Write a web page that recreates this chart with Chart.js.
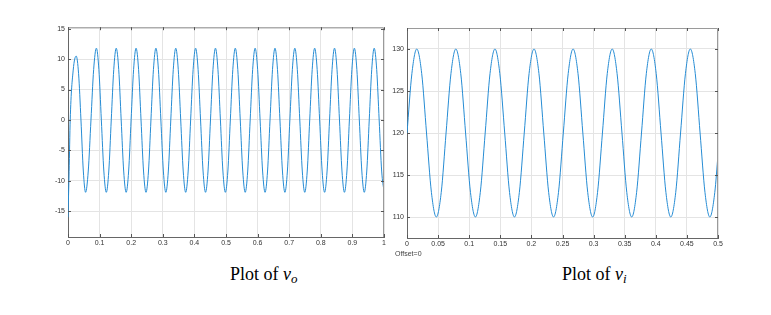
<!DOCTYPE html>
<html>
<head>
<meta charset="utf-8">
<script src="https://cdn.jsdelivr.net/npm/chart.js@4.4.0/dist/chart.umd.min.js"></script>
<style>
body { margin: 0; background: #fff; }
#page { position: relative; width: 771px; height: 315px; overflow: hidden; background: #fff; }
canvas { position: absolute; }
#voChart { left: 40px; top: 20px; }
#viChart { left: 380px; top: 20px; }
.cap { position: absolute; top: 264px; font-family: "Liberation Serif", "Times New Roman", serif; font-size: 18px; line-height: 20px; color: #000; white-space: nowrap; }
.cap sub { font-size: 13px; line-height: 0; vertical-align: -3px; }
#offset { position: absolute; left: 395px; top: 250px; font-family: "Liberation Sans", Arial, sans-serif; font-size: 7px; line-height: 8px; color: #444; }
</style>
</head>
<body>
<div id="page">
  <canvas id="voChart" width="350" height="230"></canvas>
  <canvas id="viChart" width="345" height="230"></canvas>
  <div id="offset">Offset=0</div>
  <div class="cap" style="left:230px">Plot of <i>v</i><sub><i>o</i></sub></div>
  <div class="cap" style="left:562px">Plot of <i>v</i><sub><i>i</i></sub></div>
</div>
<script>
'use strict';
// v_o (start-up transient, then steady sine)
var voTime = [
    0, 0.0035, 0.007, 0.0165, 0.026, 0.0335, 0.041, 0.0485, 0.0556, 0.0641, 0.0727, 0.0812,
    0.0898, 0.0977, 0.1055, 0.1134, 0.1212, 0.1291, 0.1369, 0.1448,
    0.1526, 0.1605, 0.1683, 0.1762, 0.1840, 0.1919, 0.1997, 0.2076,
    0.2154, 0.2233, 0.2311, 0.2390, 0.2468, 0.2547, 0.2625, 0.2704,
    0.2782, 0.2861, 0.2939, 0.3018, 0.3096, 0.3175, 0.3253, 0.3332,
    0.3410, 0.3489, 0.3567, 0.3646, 0.3724, 0.3803, 0.3881, 0.3960,
    0.4038, 0.4117, 0.4195, 0.4274, 0.4352, 0.4431, 0.4509, 0.4588,
    0.4666, 0.4745, 0.4823, 0.4902, 0.4980, 0.5059, 0.5137, 0.5216,
    0.5294, 0.5373, 0.5451, 0.5530, 0.5608, 0.5687, 0.5765, 0.5844,
    0.5922, 0.6001, 0.6079, 0.6158, 0.6236, 0.6315, 0.6393, 0.6472,
    0.6550, 0.6629, 0.6707, 0.6786, 0.6864, 0.6943, 0.7021, 0.7100,
    0.7178, 0.7257, 0.7335, 0.7414, 0.7492, 0.7571, 0.7649, 0.7728,
    0.7806, 0.7885, 0.7963, 0.8042, 0.8120, 0.8199, 0.8277, 0.8356,
    0.8434, 0.8513, 0.8591, 0.8670, 0.8748, 0.8827, 0.8905, 0.8984,
    0.9062, 0.9141, 0.9219, 0.9298, 0.9376, 0.9455, 0.9533, 0.9612,
    0.9690, 0.9769, 0.9847, 0.9926, 1.0004
];
var voValue = [
    -16.0, -8.5, 0, 8.2, 10.5, 7.6, 0, -8.4, -11.9, -8.4, 0, 8.3,
    11.8, 8.3, 0, -8.4, -11.9, -8.4, 0, 8.3,
    11.8, 8.3, 0, -8.4, -11.9, -8.4, 0, 8.3,
    11.8, 8.3, 0, -8.4, -11.9, -8.4, 0, 8.3,
    11.8, 8.3, 0, -8.4, -11.9, -8.4, 0, 8.3,
    11.8, 8.3, 0, -8.4, -11.9, -8.4, 0, 8.3,
    11.8, 8.3, 0, -8.4, -11.9, -8.4, 0, 8.3,
    11.8, 8.3, 0, -8.4, -11.9, -8.4, 0, 8.3,
    11.8, 8.3, 0, -8.4, -11.9, -8.4, 0, 8.3,
    11.8, 8.3, 0, -8.4, -11.9, -8.4, 0, 8.3,
    11.8, 8.3, 0, -8.4, -11.9, -8.4, 0, 8.3,
    11.8, 8.3, 0, -8.4, -11.9, -8.4, 0, 8.3,
    11.8, 8.3, 0, -8.4, -11.9, -8.4, 0, 8.3,
    11.8, 8.3, 0, -8.4, -11.9, -8.4, 0, 8.3,
    11.8, 8.3, 0, -8.4, -11.9, -8.4, 0, 8.3,
    11.8, 8.3, 0, -8.4, -11.9
];
var voXTicks = [0, 0.1, 0.2, 0.3, 0.4, 0.5, 0.6, 0.7, 0.8, 0.9, 1];
var voXLabels = ['0', '0.1', '0.2', '0.3', '0.4', '0.5', '0.6', '0.7', '0.8', '0.9', '1'];
var voYTicks = [-15, -10, -5, 0, 5, 10, 15];
var voYLabels = ['-15', '-10', '-5', '0', '5', '10', '15'];

// v_i
var viTime = [
    0, 0.0079, 0.0157, 0.0236, 0.0314, 0.0393, 0.0471, 0.0550,
    0.0628, 0.0707, 0.0785, 0.0864, 0.0942, 0.1021, 0.1100, 0.1178,
    0.1257, 0.1335, 0.1414, 0.1492, 0.1571, 0.1649, 0.1728, 0.1806,
    0.1885, 0.1963, 0.2042, 0.2121, 0.2199, 0.2278, 0.2356, 0.2435,
    0.2513, 0.2592, 0.2670, 0.2749, 0.2827, 0.2906, 0.2985, 0.3063,
    0.3142, 0.3220, 0.3299, 0.3377, 0.3456, 0.3534, 0.3613, 0.3691,
    0.3770, 0.3848, 0.3927, 0.4006, 0.4084, 0.4163, 0.4241, 0.4320,
    0.4398, 0.4477, 0.4555, 0.4634, 0.4712, 0.4791, 0.4869, 0.4948,
    0.5000
];
var viValue = [
    120, 127.1, 130, 127.1, 120, 112.9, 110, 112.9,
    120, 127.1, 130, 127.1, 120, 112.9, 110, 112.9,
    120, 127.1, 130, 127.1, 120, 112.9, 110, 112.9,
    120, 127.1, 130, 127.1, 120, 112.9, 110, 112.9,
    120, 127.1, 130, 127.1, 120, 112.9, 110, 112.9,
    120, 127.1, 130, 127.1, 120, 112.9, 110, 112.9,
    120, 127.1, 130, 127.1, 120, 112.9, 110, 112.9,
    120, 127.1, 130, 127.1, 120, 112.9, 110, 112.9,
    117.4
];
var viXTicks = [0, 0.05, 0.1, 0.15, 0.2, 0.25, 0.3, 0.35, 0.4, 0.45, 0.5];
var viXLabels = ['0', '0.05', '0.1', '0.15', '0.2', '0.25', '0.3', '0.35', '0.4', '0.45', '0.5'];
var viYTicks = [110, 115, 120, 125, 130];
var viYLabels = ['110', '115', '120', '125', '130'];

var tickFont = { family: '"Liberation Sans", Arial, sans-serif', size: 7 };

// box round the axes plus small inward tick marks, like the scope window
var framePlugin = {
    id: 'frame',
    afterDatasetsDraw: function (chart) {
        var ctx = chart.ctx,
            a = chart.chartArea,
            xs = chart.scales.x,
            ys = chart.scales.y;
        ctx.save();
        ctx.lineWidth = 1;
        ctx.strokeStyle = '#9a9a9a';
        ctx.beginPath();
        ctx.moveTo(a.left, a.top + 0.5);
        ctx.lineTo(a.right - 0.5, a.top + 0.5);
        ctx.lineTo(a.right - 0.5, a.bottom);
        ctx.stroke();
        ctx.strokeStyle = '#555';
        ctx.beginPath();
        xs.ticks.forEach(function (t) {
            var px = Math.round(xs.getPixelForValue(t.value)) + 0.5;
            ctx.moveTo(px, a.bottom); ctx.lineTo(px, a.bottom - 3);
            ctx.moveTo(px, a.top); ctx.lineTo(px, a.top + 3);
        });
        ys.ticks.forEach(function (t) {
            var py = Math.round(ys.getPixelForValue(t.value)) + 0.5;
            ctx.moveTo(a.left, py); ctx.lineTo(a.left + 3, py);
            ctx.moveTo(a.right, py); ctx.lineTo(a.right - 3, py);
        });
        ctx.stroke();
        ctx.restore();
    }
};

function scopeChart (canvasId, time, value, xr, yr, xTicks, xLabels, yTicks, yLabels, yWidth, xHeight, pad) {
    var points = time.map(function (t, i) { return { x: t, y: value[i] }; });
    return new Chart(document.getElementById(canvasId), {
        type: 'line',
        data: {
            datasets: [{
                data: points,
                borderColor: 'rgb(38, 140, 212)',
                borderWidth: 1,
                pointRadius: 0,
                fill: false,
                cubicInterpolationMode: 'monotone'
            }]
        },
        options: {
            responsive: false,
            animation: false,
            events: [],
            layout: { padding: pad },
            plugins: { legend: { display: false }, tooltip: { enabled: false } },
            scales: {
                x: {
                    type: 'linear',
                    bounds: 'data',
                    min: xr[0],
                    max: xr[1],
                    afterBuildTicks: function (s) { s.ticks = xTicks.map(function (v) { return { value: v }; }); },
                    afterFit: function (s) { s.height = xHeight; },
                    grid: { color: '#e4e4e4', drawTicks: false },
                    border: { color: '#666' },
                    ticks: {
                        autoSkip: false, maxRotation: 0, padding: 2,
                        font: tickFont, color: '#333',
                        callback: function (v, i) { return xLabels[i]; }
                    }
                },
                y: {
                    type: 'linear',
                    bounds: 'data',
                    min: yr[0],
                    max: yr[1],
                    afterBuildTicks: function (s) { s.ticks = yTicks.map(function (v) { return { value: v }; }); },
                    afterFit: function (s) { s.width = yWidth; },
                    grid: { color: '#e4e4e4', drawTicks: false },
                    border: { color: '#666' },
                    ticks: {
                        autoSkip: false, padding: 3,
                        font: tickFont, color: '#333',
                        callback: function (v, i) { return yLabels[i]; }
                    }
                }
            }
        },
        plugins: [framePlugin]
    });
}

scopeChart('voChart', voTime, voValue, [0, 1], [-19.25, 15.25],
    voXTicks, voXLabels, voYTicks, voYLabels, 28, 13, { top: 7, right: 6, left: 0, bottom: 0 });
scopeChart('viChart', viTime, viValue, [0, 0.5], [107.5, 132.5],
    viXTicks, viXLabels, viYTicks, viYLabels, 27, 12, { top: 8, right: 7, left: 0, bottom: 0 });
</script>
</body>
</html>
